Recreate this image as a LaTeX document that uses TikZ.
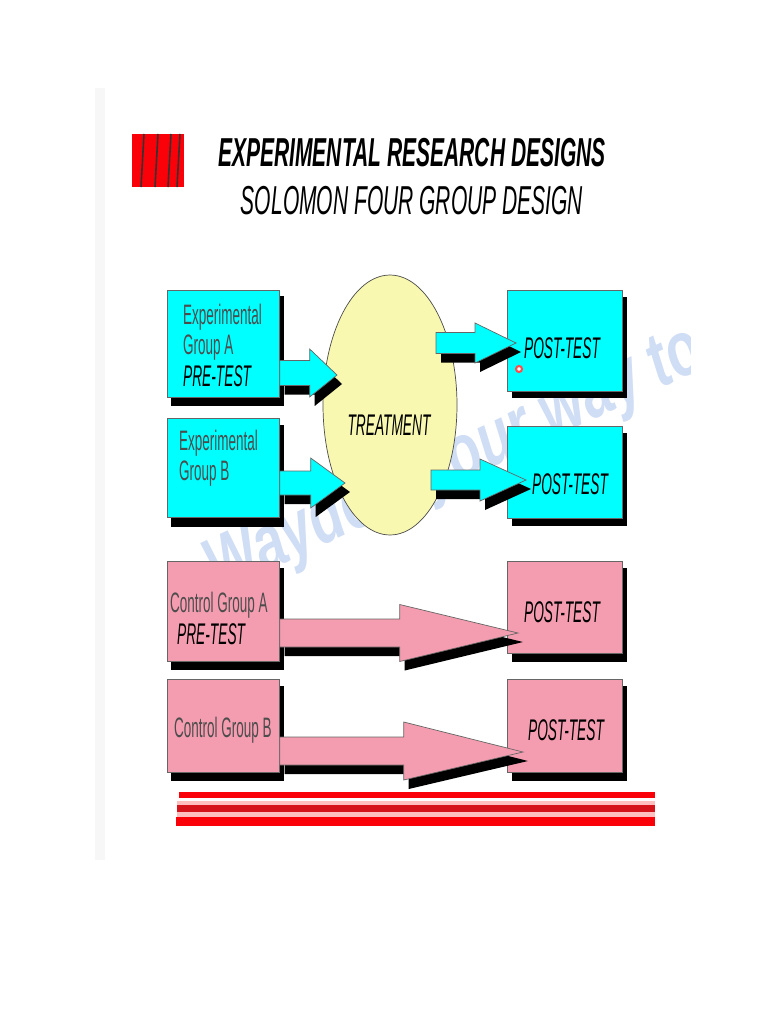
\documentclass[tikz,border=0pt]{standalone}
\usepackage{fontspec}
\setmainfont{Liberation Sans}
\usetikzlibrary{calc,shapes.geometric}
\definecolor{expcyan}{HTML}{00FFFF}
\definecolor{ctrlpink}{HTML}{F59DB0}
\definecolor{treatyellow}{HTML}{F8F8B0}
\definecolor{markblue}{HTML}{CFDDF5}
\definecolor{stripered}{HTML}{FA0008}
\definecolor{stripedark}{HTML}{D4141A}
\tikzset{
    expbox/.style = {draw = black!60, fill = expcyan, inner sep = 0pt, anchor = north west},
    ctrlbox/.style = {draw = black!60, fill = ctrlpink, inner sep = 0pt, anchor = north west},
    boxtext/.style = {text = black!70, align = left, inner sep = 0pt, font = \fontsize{16}{17}\selectfont, xscale = 0.48, transform shape},
    testtext/.style = {text = black, inner sep = 0pt, font = \fontsize{17}{17}\selectfont\itshape, xscale = 0.46, transform shape}
}
% block arrow: start, tip, half shaft, head offset, half head, shift
\newcommand{\blockpath}[6]{($(#1)+(#6)+(0,-#3)$) -- ($(#1)+(#6)+(#4,-#3)$) -- ($(#1)+(#6)+(#4,-#5)$) -- ($(#2)+(#6)$) -- ($(#1)+(#6)+(#4,#5)$) -- ($(#1)+(#6)+(#4,#3)$) -- ($(#1)+(#6)+(0,#3)$) -- cycle}
\newcommand{\blockarrow}[6]{%
    \fill [black] \blockpath{#2}{#3}{#4}{#5}{#6}{5,9};
    \draw [color = black!60, fill = #1] \blockpath{#2}{#3}{#4}{#5}{#6}{0,0};}
\begin{document}
\begin{tikzpicture}[x = 0.02cm, y = -0.02cm]
        \useasboundingbox (0,0) rectangle (768,1024);
        \fill [white] (0,0) rectangle (768,1024);
        \fill [black!3] (95,88) rectangle (105,860);
        % background mark
        \begin{scope}
            \clip (0,0) rectangle (690,1024);
            \node [rotate = 25, text = markblue, font = \fontsize{44}{44}\selectfont\bfseries\itshape, xscale = 0.71, transform shape, inner sep = 0pt] (mark) at (455,462) {Waydev, your way to};
        \end{scope}
        % title
        \fill [stripered] (132,134) rectangle (184,187);
        \foreach \xa/\xb in {144/141, 158/155, 171/168, 180/177} {
            \draw [black!80, line width = 0.9pt] (\xa,134) -- (\xb,187);
        }
        \node [inner sep = 0pt, font = \fontsize{23}{23}\selectfont\bfseries\itshape, xscale = 0.52, transform shape] (heading) at (412,153) {EXPERIMENTAL RESEARCH DESIGNS};
        \node [inner sep = 0pt, font = \fontsize{23}{23}\selectfont\itshape, xscale = 0.52, transform shape] (subheading) at (412,201) {SOLOMON FOUR GROUP DESIGN};
        % shadows
        \foreach \xa/\ya/\xb/\yb in {171/296/284/406, 171/425/284/527, 512/297/627/398, 512/433/627/526, 171/568/284/670, 171/686/284/781, 512/568/627/662, 512/686/627/781} {
            \fill [black] (\xa,\ya) rectangle (\xb,\yb);
        }
        % boxes
        \node [expbox, minimum width = 22.4mm, minimum height = 21.4mm] (expa) at (167,290) {};
        \node [expbox, minimum width = 22.4mm, minimum height = 19.8mm] (expb) at (167,418) {};
        \node [expbox, minimum width = 23mm, minimum height = 20.2mm] (posta) at (507,290) {};
        \node [expbox, minimum width = 23mm, minimum height = 18.4mm] (postb) at (507,426) {};
        \node [ctrlbox, minimum width = 22.4mm, minimum height = 20mm] (ctrla) at (167,561) {};
        \node [ctrlbox, minimum width = 22.4mm, minimum height = 18.6mm] (ctrlb) at (167,679) {};
        \node [ctrlbox, minimum width = 23mm, minimum height = 18.4mm] (postc) at (507,561) {};
        \node [ctrlbox, minimum width = 23mm, minimum height = 18.6mm] (postd) at (507,679) {};
        % treatment
        \node [ellipse, draw = black!70, fill = treatyellow, minimum width = 26.8mm, minimum height = 52mm, inner sep = 0pt] (treat) at (390,405) {};
        % arrows
        \coordinate (tipa) at (337,375);
        \coordinate (tipb) at (345,483);
        \coordinate (tipc) at (516,343);
        \coordinate (tipd) at (526,480);
        \coordinate (tipe) at (518,633);
        \coordinate (tipf) at (523,752);
        \coordinate (starta) at (expa.east |- 0,373);
        \coordinate (startb) at (expb.east |- 0,483);
        \coordinate (startc) at (436,343);
        \coordinate (startd) at (431,480);
        \coordinate (starte) at (ctrla.east |- 0,633);
        \coordinate (startf) at (ctrlb.east |- 0,751);
        \blockarrow{expcyan}{starta}{tipa}{12.5}{30}{24}
        \blockarrow{expcyan}{startb}{tipb}{12}{31}{25}
        \blockarrow{expcyan}{startc}{tipc}{10.5}{39}{20}
        \blockarrow{expcyan}{startd}{tipd}{10}{49}{21}
        \blockarrow{ctrlpink}{starte}{tipe}{14}{120}{28.5}
        \blockarrow{ctrlpink}{startf}{tipf}{14}{124}{29}
        % labels
        \node [boxtext, anchor = west] (labela) at (183,332) {Experimental\\Group A};
        \node [testtext, anchor = west] (pretesta) at (183,376) {PRE-TEST};
        \node [boxtext, anchor = west] (labelb) at (179,458) {Experimental\\Group B};
        \node [testtext] (labeltreat) at (389,425) {TREATMENT};
        \node [testtext] (testa) at (562,348) {POST-TEST};
        \node [testtext] (testb) at (570,484) {POST-TEST};
        \node [boxtext, anchor = west] (labelc) at (170,605) {Control Group A};
        \node [testtext, anchor = west] (pretestc) at (177,634) {PRE-TEST};
        \node [boxtext, anchor = west] (labeld) at (174,730) {Control Group B};
        \node [testtext] (testc) at (562,612) {POST-TEST};
        \node [testtext] (testd) at (566,730) {POST-TEST};
        % pointer
        \draw [color = red!70!white, fill = white, line width = 1.2pt] (519,369) circle (3);
        % stripes
        \fill [stripered] (179,792) rectangle (655,798);
        \fill [red!25] (177,801) rectangle (655,817);
        \fill [stripedark] (177,805) rectangle (655,812);
        \fill [stripered] (176,817) rectangle (655,826);
\end{tikzpicture}
\end{document}
